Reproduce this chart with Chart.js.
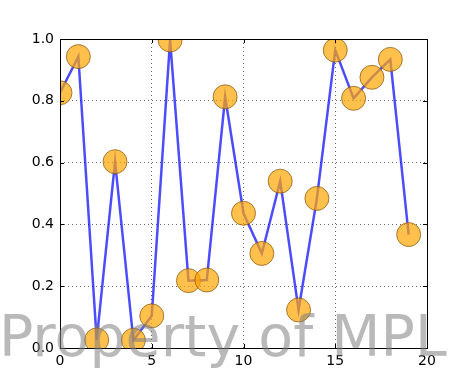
<!DOCTYPE html>
<html>
<head>
<meta charset="utf-8">
<script src="https://cdn.jsdelivr.net/npm/chart.js@4"></script>
<style>
  html, body { margin: 0; padding: 0; background: #fff; }
  #wrap { width: 474px; height: 387px; }
</style>
</head>
<body>
<div id="wrap"><canvas id="chart"></canvas></div>
<script>
// data
const xs = [0, 1, 2, 3, 4, 5, 6, 7, 8, 9, 10, 11, 12, 13, 14, 15, 16, 17, 18, 19];
const ys = [0.826, 0.943, 0.026, 0.603, 0.025, 0.104, 0.997, 0.218, 0.22, 0.813,
            0.436, 0.306, 0.54, 0.123, 0.484, 0.964, 0.808, 0.876, 0.934, 0.367];
const xTicks = [0, 5, 10, 15, 20];
const yTicks = [0.0, 0.2, 0.4, 0.6, 0.8, 1.0];
const watermark = "Property of MPL";

const points = xs.map(function (x, i) { return { x: x, y: ys[i] }; });

// frame, inward ticks and the watermark text
const extras = {
  id: "extras",
  afterDatasetsDraw: function (chart) {
    var ctx = chart.ctx;
    var a = chart.chartArea;
    var sx = chart.scales.x, sy = chart.scales.y;
    ctx.save();
    ctx.strokeStyle = "#000";
    ctx.lineWidth = 1;
    ctx.strokeRect(a.left + 0.5, a.top + 0.5, a.right - a.left, a.bottom - a.top);
    ctx.beginPath();
    xTicks.forEach(function (t) {
      var px = Math.round(sx.getPixelForValue(t)) + 0.5;
      ctx.moveTo(px, a.bottom); ctx.lineTo(px, a.bottom - 4);
      ctx.moveTo(px, a.top); ctx.lineTo(px, a.top + 4);
    });
    yTicks.forEach(function (t) {
      var py = Math.round(sy.getPixelForValue(t)) + 0.5;
      ctx.moveTo(a.left, py); ctx.lineTo(a.left + 4, py);
      ctx.moveTo(a.right, py); ctx.lineTo(a.right - 4, py);
    });
    ctx.stroke();
    ctx.restore();
  },
  afterDraw: function (chart) {
    var ctx = chart.ctx;
    ctx.save();
    ctx.font = "57px 'DejaVu Sans'";
    ctx.fillStyle = "rgba(128,128,128,0.55)";
    ctx.textBaseline = "alphabetic";
    ctx.fillText(watermark, -1, 356);
    ctx.restore();
  }
};

new Chart(document.getElementById("chart"), {
  type: "line",
  data: {
    datasets: [{
      data: points,
      borderColor: "rgba(0,0,255,0.7)",
      borderWidth: 2.5,
      tension: 0,
      pointRadius: 12,
      pointHoverRadius: 12,
      pointBackgroundColor: "rgba(255,165,0,0.7)",
      pointBorderColor: "rgba(130,80,10,0.7)",
      pointBorderWidth: 1
    }]
  },
  options: {
    responsive: true,
    maintainAspectRatio: false,
    animation: false,
    layout: { padding: { left: 0, top: 39, right: 47, bottom: 0 } },
    plugins: { legend: { display: false }, tooltip: { enabled: false } },
    scales: {
      x: {
        type: "linear",
        min: 0, max: 20,
        afterBuildTicks: function (s) { s.ticks = xTicks.map(function (v) { return { value: v }; }); },
        afterFit: function (s) { s.height = 39; },
        grid: { color: "#666", drawTicks: false },
        border: { display: false, dash: [1, 3] },
        ticks: { color: "#000", padding: 5, font: { family: "DejaVu Sans", size: 14 },
                 callback: function (v) { return String(v); } }
      },
      y: {
        min: 0, max: 1,
        afterBuildTicks: function (s) { s.ticks = yTicks.map(function (v) { return { value: v }; }); },
        afterFit: function (s) { s.width = 60; },
        grid: { color: "#666", drawTicks: false },
        border: { display: false, dash: [1, 3] },
        ticks: { color: "#000", padding: 6, font: { family: "DejaVu Sans", size: 14 },
                 callback: function (v) { return v.toFixed(1); } }
      }
    }
  },
  plugins: [extras]
});
</script>
</body>
</html>
